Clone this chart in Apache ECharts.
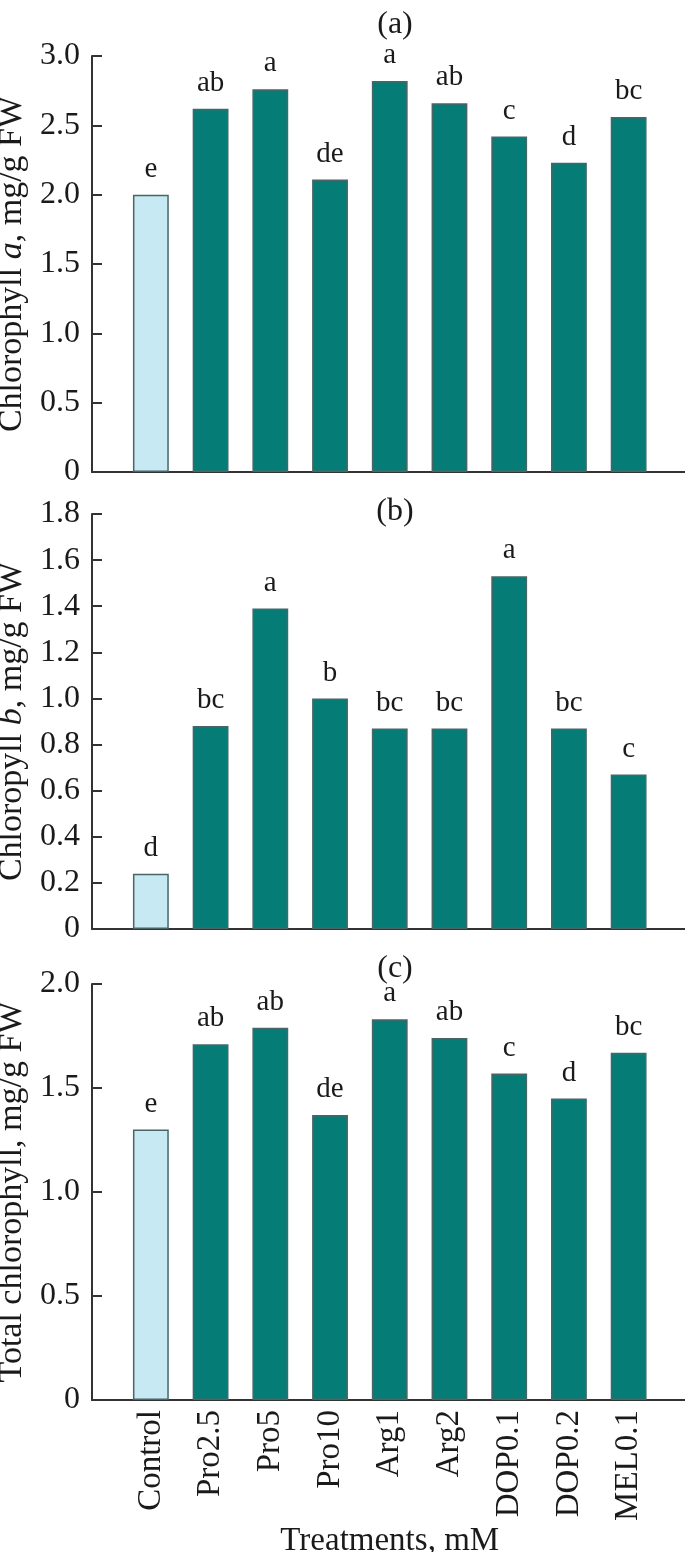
<!DOCTYPE html>
<html>
<head>
<meta charset="utf-8">
<script src="https://cdn.jsdelivr.net/npm/echarts@6/dist/echarts.min.js"></script>
<style>
  html, body { margin: 0; padding: 0; background: #fff; }
  #chart { width: 685px; height: 1552px; }
</style>
</head>
<body>
<div id="chart"></div>
<script>
// treatments on the x axis
const categories = ['Control', 'Pro2.5', 'Pro5', 'Pro10', 'Arg1', 'Arg2', 'DOP0.1', 'DOP0.2', 'MEL0.1']

// (a) chlorophyll a
const chlA = [2.00, 2.62, 2.76, 2.11, 2.82, 2.66, 2.42, 2.23, 2.56]
const chlAGroups = ['e', 'ab', 'a', 'de', 'a', 'ab', 'c', 'd', 'bc']
const ticksA = [0, 0.5, 1.0, 1.5, 2.0, 2.5, 3.0]

// (b) chlorophyll b
const chlB = [0.24, 0.88, 1.39, 1.00, 0.87, 0.87, 1.53, 0.87, 0.67]
const chlBGroups = ['d', 'bc', 'a', 'b', 'bc', 'bc', 'a', 'bc', 'c']
const ticksB = [0, 0.2, 0.4, 0.6, 0.8, 1.0, 1.2, 1.4, 1.6, 1.8]

// (c) total chlorophyll
const chlTotal = [1.30, 1.71, 1.79, 1.37, 1.83, 1.74, 1.57, 1.45, 1.67]
const chlTotalGroups = ['e', 'ab', 'ab', 'de', 'a', 'ab', 'c', 'd', 'bc']
const ticksC = [0, 0.5, 1.0, 1.5, 2.0]

const FONT = '"Liberation Serif", "Times New Roman", serif'
const TEAL = '#067c77'
const LIGHT = '#c7e9f3'
const AXIS = '#333'
const INK = '#1a1a1a'

const panels = [
    {top: 56, height: 416, values: chlA, groups: chlAGroups, ticks: ticksA,
        title: '(a)', titleTop: 4, name: 'Chlorophyll {i|a}, mg/g FW'},
    {top: 514, height: 415, values: chlB, groups: chlBGroups, ticks: ticksB,
        title: '(b)', titleTop: 491, name: 'Chloropyll {i|b}, mg/g FW'},
    {top: 984, height: 416, values: chlTotal, groups: chlTotalGroups, ticks: ticksC,
        title: '(c)', titleTop: 948, name: 'Total chlorophyll, mg/g FW'}
]

const grid = [], xAxis = [], yAxis = [], series = [], title = []

panels.forEach((p, i) => {
    const last = i === panels.length - 1
    const step = p.ticks[1] - p.ticks[0]
    const yMax = p.ticks[p.ticks.length - 1]
    // frame grid: axis lines run the full width
    grid.push({left: 92, right: 0, top: p.top, height: p.height, outerBoundsMode: 'none'})
    // bar grid
    grid.push({left: 121, right: 26.5, top: p.top, height: p.height, outerBoundsMode: 'none'})

    xAxis.push({
        type: 'value', gridIndex: 2 * i, min: 0, max: 1,
        axisLine: {show: true, lineStyle: {color: AXIS, width: 2}},
        axisTick: {show: false}, axisLabel: {show: false}, splitLine: {show: false}
    })
    xAxis.push({
        type: 'category', gridIndex: 2 * i + 1, data: categories,
        axisLine: {show: false}, axisTick: {show: false},
        axisLabel: {
            show: last, rotate: 90, margin: 10,
            fontFamily: FONT, fontSize: 33, color: INK
        },
        name: last ? 'Treatments, mM' : '',
        nameLocation: 'middle', nameGap: 104,
        nameTextStyle: {fontFamily: FONT, fontSize: 33, color: INK}
    })

    yAxis.push({
        type: 'value', gridIndex: 2 * i, min: 0, max: yMax, interval: step,
        axisLine: {show: true, lineStyle: {color: AXIS, width: 2}},
        axisTick: {show: true, inside: true, length: 10, lineStyle: {color: AXIS, width: 2}},
        splitLine: {show: false},
        axisLabel: {
            margin: 12, fontFamily: FONT, fontSize: 32, color: INK,
            formatter: v => v === 0 ? '0' : v.toFixed(1)
        },
        name: p.name, nameLocation: 'middle', nameGap: 50,
        nameTextStyle: {
            fontFamily: FONT, fontSize: 34, color: INK,
            rich: {i: {fontFamily: FONT, fontSize: 34, fontStyle: 'italic', color: INK}}
        }
    })
    yAxis.push({
        type: 'value', gridIndex: 2 * i + 1, min: 0, max: yMax, interval: step, show: false
    })

    series.push({
        type: 'bar', xAxisIndex: 2 * i + 1, yAxisIndex: 2 * i + 1,
        barWidth: '60%',
        data: p.values,
        itemStyle: {
            color: params => params.dataIndex === 0 ? LIGHT : TEAL,
            borderColor: '#4a6566',
            borderWidth: 1.5
        },
        label: {
            show: true, position: 'top', distance: 11,
            fontFamily: FONT, fontSize: 29, color: INK,
            formatter: params => p.groups[params.dataIndex]
        }
    })

    title.push({
        text: p.title, left: 390, textAlign: 'center', top: p.titleTop,
        textStyle: {fontFamily: FONT, fontSize: 32, fontWeight: 'normal', color: INK}
    })
})

const myChart = echarts.init(document.getElementById('chart'), null, {renderer: 'canvas'})
myChart.setOption({
    animation: false,
    title: title,
    grid: grid,
    xAxis: xAxis,
    yAxis: yAxis,
    series: series
})
</script>
</body>
</html>
